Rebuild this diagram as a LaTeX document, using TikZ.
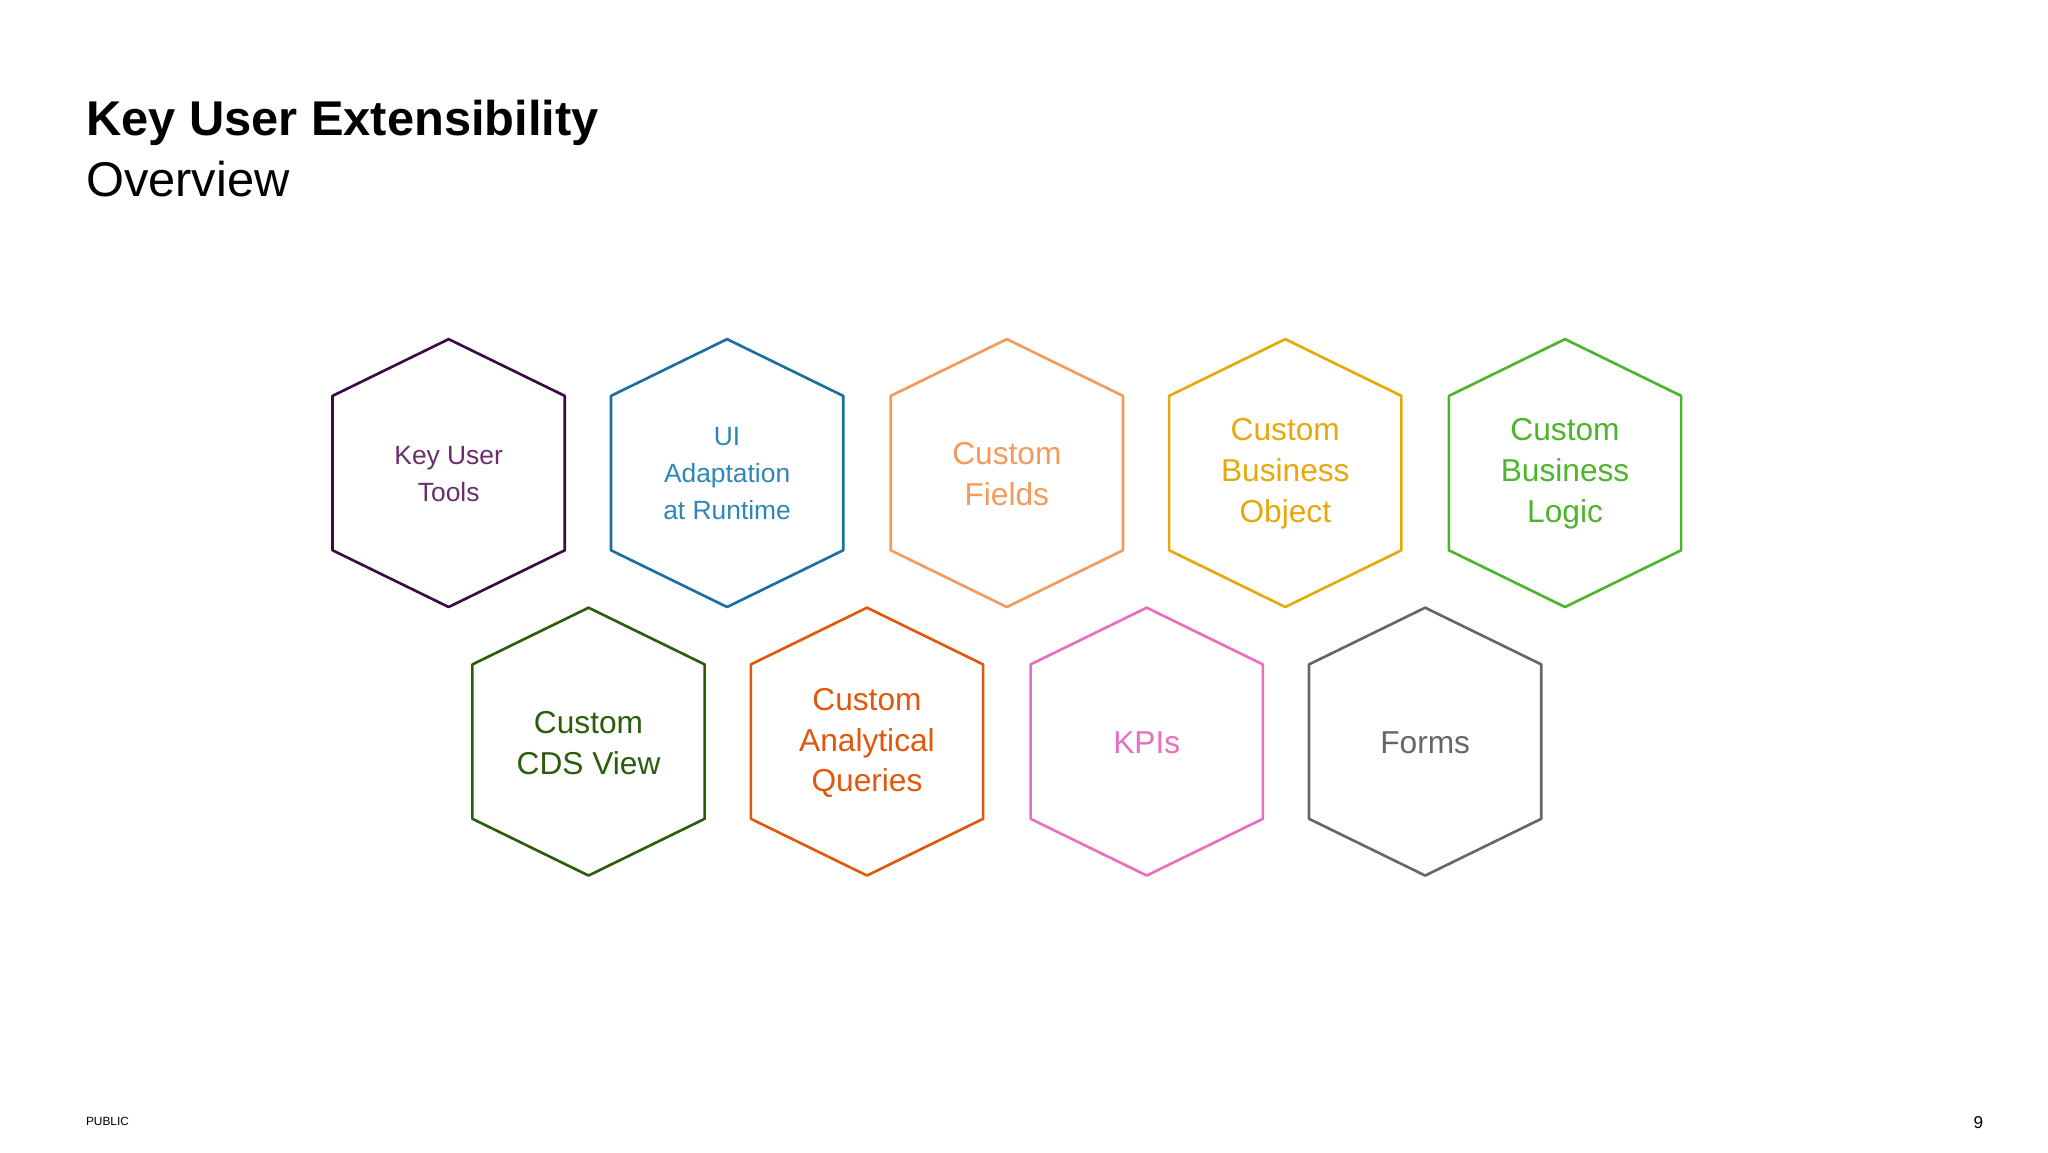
\documentclass[tikz,border=0pt]{standalone}
\usepackage{fontspec}
\setmainfont{Liberation Sans}
\definecolor{cA}{HTML}{3B0A45}\definecolor{tA}{HTML}{6B2C6E}
\definecolor{cB}{HTML}{1A6FA0}\definecolor{tB}{HTML}{2E86B8}
\definecolor{cC}{HTML}{F59A5A}
\definecolor{cD}{HTML}{E8A80C}
\definecolor{cE}{HTML}{4CB52C}
\definecolor{cF}{HTML}{2B5E0C}
\definecolor{cG}{HTML}{E0580C}
\definecolor{cH}{HTML}{E86EC0}
\definecolor{cI}{HTML}{666666}
\begin{document}
\begin{tikzpicture}[x=1pt,y=-1pt,
  hexlbl/.style={align=center,font=\fontsize{24}{31}\selectfont},
  hexsm/.style={align=center,font=\fontsize{20}{28}\selectfont}]
\useasboundingbox[fill=white] (0,0) rectangle (1552,873);
\newcommand{\hexa}[3]{\draw[#3,line width=2pt,line join=round] (#1,#2-101.5) -- (#1+88,#2-58.5) -- (#1+88,#2+58.5) -- (#1,#2+101.5) -- (#1-88,#2+58.5) -- (#1-88,#2-58.5) -- cycle;}
\node[anchor=base west,font=\fontsize{37}{40}\selectfont\bfseries,inner sep=0] (title) at (65,103) {Key User Extensibility};
\node[anchor=base west,font=\fontsize{37}{40}\selectfont,inner sep=0] (sub) at (65,149) {Overview};
\hexa{340}{358.5}{cA}\node[hexsm,text=tA] (a) at (340,359) {Key User\\Tools};
\hexa{551}{358.5}{cB}\node[hexsm,text=tB] (b) at (551,359) {UI\\Adaptation\\at Runtime};
\hexa{763}{358.5}{cC}\node[hexlbl,text=cC] (c) at (763,359) {Custom\\Fields};
\hexa{974}{358.5}{cD}\node[hexlbl,text=cD] (d) at (974,359) {Custom\\Business\\Object};
\hexa{1186}{358.5}{cE}\node[hexlbl,text=cE] (e) at (1186,359) {Custom\\Business\\Logic};
\hexa{446}{562}{cF}\node[hexlbl,text=cF] (f) at (446,563) {Custom\\CDS View};
\hexa{657}{562}{cG}\node[hexlbl,text=cG] (g) at (657,563) {Custom\\Analytical\\Queries};
\hexa{869}{562}{cH}\node[hexlbl,text=cH] (h) at (869,563) {KPIs};
\hexa{1080}{562}{cI}\node[hexlbl,text=cI] (i) at (1080,563) {Forms};
\node[anchor=base west,font=\fontsize{9}{10}\selectfont,inner sep=0] (pub) at (65,853) {PUBLIC};
\node[anchor=base east,font=\fontsize{13}{14}\selectfont,inner sep=0] (pg) at (1503,855) {9};
\end{tikzpicture}
\end{document}
